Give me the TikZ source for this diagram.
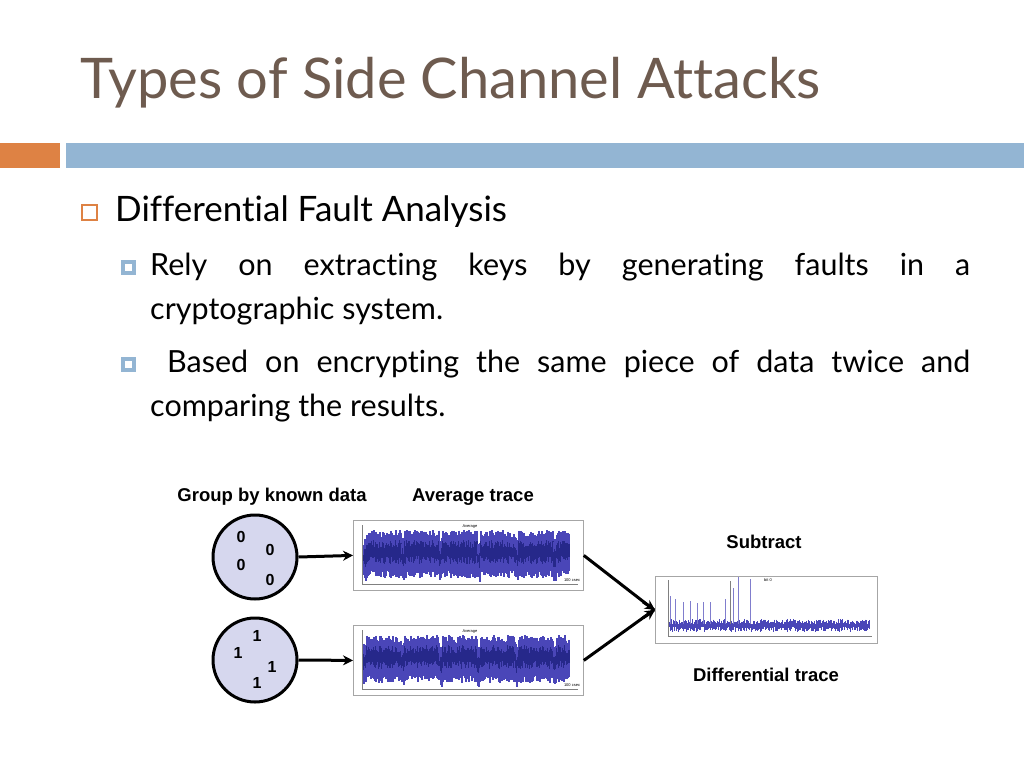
\documentclass[tikz,border=0pt]{standalone}
\usepackage{fontspec}
\setmainfont{Lato}[Ligatures={NoCommon,NoRequired,NoContextual}]
\newfontfamily\arial{Liberation Sans}
\definecolor{titlec}{HTML}{6E5B4F}
\definecolor{orbar}{HTML}{DE8244}
\definecolor{blbar}{HTML}{93B5D3}
\definecolor{circ}{HTML}{D6D7EE}
\definecolor{trc}{HTML}{4A46B8}
\definecolor{trd}{HTML}{26288A}
\tikzset{x=1pt,y=-1pt,
 lbl/.style={font=\arial\bfseries\fontsize{18.5}{20}\selectfont,inner sep=0},
 grp/.style={circle,draw,line width=3pt,fill=circ,minimum size=84pt,inner sep=0},
 plotbox/.style={draw=gray!70,line width=0.8pt,fill=white,inner sep=0,anchor=north west},
 arr/.style={line width=3pt,-{Stealth[length=10pt,width=10pt]}},
 sub/.style={anchor=north west,text width=820pt,align=justify,font=\fontsize{30.5}{44}\selectfont,inner sep=0},
 num/.style={font=\arial\bfseries\fontsize{16}{16}\selectfont,inner sep=0}}
\usetikzlibrary{arrows.meta}
\begin{document}
\begin{tikzpicture}
\useasboundingbox (0,0) rectangle (1024,768);
\fill[white] (0,0) rectangle (1024,768);
\node[anchor=west,text=titlec,font=\fontsize{56}{60}\selectfont,inner sep=0] (title) at (80,83) {Types of Side Channel Attacks};
\fill[orbar] (0,143) rectangle (60,168);
\fill[blbar] (66,143) rectangle (1024,168);
% bullets
\draw[orbar,line width=1.3pt] (82,205) rectangle (97,220);
\node[anchor=west,font=\fontsize{35}{40}\selectfont,inner sep=0] (b1) at (115,212) {Differential Fault Analysis};
\draw[blbar,line width=3.5pt] (123,262) rectangle (134,273);
\draw[blbar,line width=3.5pt] (123,359) rectangle (134,370);
\node[sub] (s1) at (150,253) {\hyphenpenalty=10000 Rely on extracting keys by generating faults in a\linebreak cryptographic system.};
\node[sub] (s2) at (150,350) {\hyphenpenalty=10000 \ Based on encrypting the same piece of data twice and\linebreak comparing the results.};
% labels
\node[lbl] (l1) at (272,497) {Group by known data};
\node[lbl] (l2) at (473,497) {Average trace};
\node[lbl] (l3) at (764,542) {Subtract};
\node[lbl] (l4) at (766,675) {Differential trace};
% circles
\node[grp] (c0) at (255,557) {};
\node[grp] (c1) at (255,660) {};
\node[num] at (241,537) {0};\node[num] at (270,550) {0};
\node[num] at (241,565) {0};\node[num] at (270,580) {0};
\node[num] at (257,636) {1};\node[num] at (238,653) {1};
\node[num] at (272,667) {1};\node[num] at (257,683) {1};
% traces
\pgfmathsetseed{7}
\foreach \yy/\nm in {520/t0,625/t1}{
 \node[plotbox,minimum width=230pt,minimum height=70pt] (\nm) at (353,\yy) {};
 \foreach \i in {0,...,205}{
   \pgfmathsetmacro\xx{364+\i}
   \pgfmathsetmacro\ph{mod(\i,38)<3?8:0}
   \pgfmathsetmacro\a{\yy+10+\ph+8*rnd}
   \pgfmathsetmacro\b{\yy+50+8*rnd+\ph*0.5}
   \draw[trc,line width=1.2pt] (\xx,\a) -- (\xx,\b);
   \draw[trd,line width=1.2pt] (\xx,\a+10) -- (\xx,\b-14);
 }
 \draw[gray,line width=0.4pt] (362,\yy+5) -- (362,\yy+64) -- (578,\yy+64);
 \node[font=\arial\fontsize{4}{4}\selectfont,inner sep=0] at (470,\yy+7) {Average};
 \node[font=\arial\fontsize{4}{4}\selectfont,inner sep=0] at (572,\yy+60) {100 csec};
}
\node[plotbox,minimum width=222pt,minimum height=67pt] (d) at (655,576) {};
\draw[gray,line width=0.4pt] (668,580) -- (668,636) -- (872,636);
\foreach \i in {0,...,200}{
  \pgfmathsetmacro\xx{669+\i}
  \pgfmathsetmacro\a{624-5*rnd}
  \pgfmathsetmacro\b{627+5*rnd}
  \draw[trc,line width=0.9pt] (\xx,\a) -- (\xx,\b);
}
\foreach \xs/\h in {670/28,675/25,683/22,690/23,697/21,703/22,710/22,725/25,733/36,738/47,750/45}{
  \draw[trc!70,line width=0.6pt] (\xs,624) -- (\xs,624-\h);
}
\draw[gray,line width=0.5pt] (730,624) -- (730,581);
\node[font=\arial\fontsize{4}{4}\selectfont,inner sep=0] at (768,580) {bit 0};
% arrows
\draw[arr] (c0.east) -- (t0.west);
\draw[arr] (c1.east) -- (t1.west);
\coordinate (m) at (d.west);
\draw[line width=3pt] (t0.east) -- ([xshift=-1pt]m);
\draw[line width=3pt] (t1.east) -- ([xshift=-1pt]m);
\draw[arr] ([xshift=-12pt,yshift=-8pt]m) -- (m);
\draw[arr] ([xshift=-12pt,yshift=8pt]m) -- (m);
\end{tikzpicture}
\end{document}
